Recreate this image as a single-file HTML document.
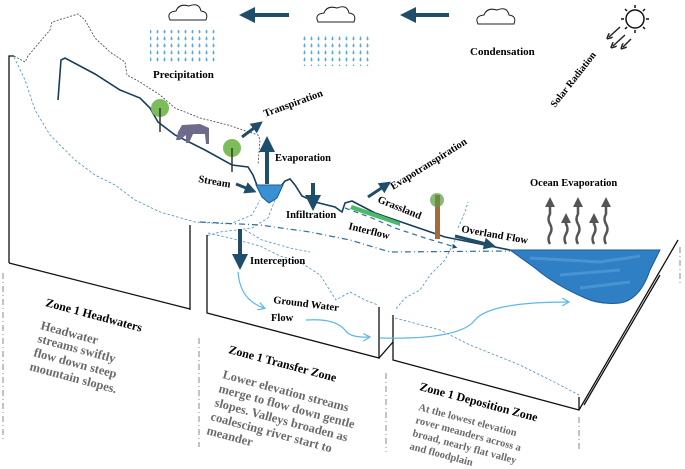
<!DOCTYPE html>
<html><head><meta charset="utf-8"><style>
html,body{margin:0;padding:0;background:#fff}
svg{display:block}
text{font-family:"Liberation Serif",serif;font-weight:bold}
</style></head><body>
<svg width="685" height="469" viewBox="0 0 685 469" xmlns="http://www.w3.org/2000/svg">
<defs>
<marker id="ah" markerWidth="4" markerHeight="4" refX="2" refY="2" orient="auto" markerUnits="strokeWidth"><path d="M0,0 L4,2 L0,4Z" fill="#1f4e6b"/></marker>
<marker id="lb" markerWidth="8" markerHeight="8" refX="6" refY="4" orient="auto" markerUnits="userSpaceOnUse"><path d="M0,0 L7,4 L0,8" fill="none" stroke="#5bb8e6" stroke-width="1.2"/></marker>
<marker id="gr" markerWidth="4" markerHeight="4" refX="2" refY="2" orient="auto" markerUnits="strokeWidth"><path d="M0,0 L4,2 L0,4Z" fill="#555"/></marker>
<marker id="bk" markerWidth="4" markerHeight="4" refX="2" refY="2" orient="auto" markerUnits="strokeWidth"><path d="M0,0 L4,2 L0,4" fill="none" stroke="#222" stroke-width="1"/></marker>
<pattern id="rain" width="7" height="7" patternUnits="userSpaceOnUse"><path d="M3.5,1 Q1.5,4.5 3.5,5.5 Q5.5,4.5 3.5,1Z" fill="#5aa8dc"/></pattern>
</defs>
<g fill="#fff" stroke="#222" stroke-width="1">
<path d="M170,20 q-4,-8 6,-9 q3,-8 13,-5 q10,-4 12,5 q8,1 5,9 z"/>
<path d="M318,22 q-4,-8 6,-9 q3,-8 13,-5 q10,-4 12,5 q8,1 5,9 z"/>
<path d="M478,24 q-4,-8 6,-9 q3,-8 13,-5 q10,-4 12,5 q8,1 5,9 z"/>
</g>
<line x1="289" y1="15" x2="247" y2="15" stroke="#1f4e6b" stroke-width="4" marker-end="url(#ah)"/>
<line x1="449" y1="15" x2="408" y2="15" stroke="#1f4e6b" stroke-width="4" marker-end="url(#ah)"/>
<rect x="150" y="30" width="66" height="34" fill="url(#rain)"/>
<rect x="303" y="36" width="66" height="30" fill="url(#rain)"/>
<text x="153" y="78" font-size="11">Precipitation</text>
<text x="470" y="55" font-size="11">Condensation</text>
<circle cx="635" cy="19" r="9" fill="none" stroke="#111" stroke-width="1.5"/>
<g stroke="#111" stroke-width="1.5">
<line x1="635" y1="5" x2="635" y2="8"/><line x1="635" y1="30" x2="635" y2="33"/><line x1="621" y1="19" x2="624" y2="19"/><line x1="646" y1="19" x2="649" y2="19"/>
<line x1="625" y1="9" x2="627" y2="11"/><line x1="643" y1="27" x2="645" y2="29"/><line x1="645" y1="9" x2="643" y2="11"/><line x1="625" y1="29" x2="627" y2="27"/>
</g>
<line x1="620" y1="27" x2="609" y2="37" stroke="#222" stroke-width="1.5" marker-end="url(#bk)"/>
<line x1="625" y1="35" x2="613" y2="46" stroke="#222" stroke-width="1.5" marker-end="url(#bk)"/>
<line x1="631" y1="39" x2="623" y2="47" stroke="#222" stroke-width="1.5" marker-end="url(#bk)"/>
<text x="0" y="0" font-size="10" transform="translate(555,108) rotate(-52)">Solar Radiation</text>
<path d="M14,56 L25,62 L28,56 L50,30 L52,22 L65,18 L78,14 L85,20 L95,38 L110,52 L125,62 L127,75 L140,82 L160,95 L175,108 L200,118 L228,125 L258,135 L260,140 L258,165" fill="none" stroke="#444" stroke-width="0.8" stroke-dasharray="2,1.5"/>
<g fill="none" stroke="#4a8fc0" stroke-width="0.8" stroke-dasharray="2.5,2">
<path d="M14,57 L25,80 L35,110 L50,135 L75,160 L95,175 L115,185 L135,200 L160,212 L195,222 L230,224 L252,215 L260,200"/>
<path d="M275,200 L268,218 L252,228 L220,232 L206,236"/>
<path d="M208,233 L230,238 L260,246 L280,256 L300,262 L320,275 L336,300 L350,292 L365,300 L378,305"/>
<path d="M455,240 L445,260 L430,275 L420,290 L405,298 L395,310"/>
<path d="M395,318 L440,330 L470,345 L520,365 L560,385 L579,395"/>
<path d="M245,230 L262,240 L290,248 L310,252"/>
</g>
<g stroke="#111" stroke-width="1.3" fill="none">
<path d="M14,56 L9,56 L9,263"/>
<path d="M9,263 L190,309"/>
<line x1="190" y1="225" x2="190" y2="310"/>
<path d="M207,235 L207,313 L379,358 L379,307"/>
<path d="M379,358 L393,342"/>
<path d="M393,315 L393,360 L579,410 L678,240"/>
<path d="M579,410 L579,397"/>
<path d="M584,405 L660,275"/>
</g>
<g stroke="#888" stroke-width="1" stroke-dasharray="6,3,1,3">
<line x1="3" y1="273" x2="3" y2="440"/>
<line x1="199" y1="338" x2="199" y2="447"/>
<line x1="386" y1="373" x2="386" y2="452"/>
<line x1="579" y1="417" x2="579" y2="450"/>
<line x1="680" y1="247" x2="680" y2="283"/>
</g>
<path d="M510,250 L660,250 L650,270 Q640,300 620,303 Q600,305 585,298 Q555,285 535,268 Z" fill="#2e7fc4" stroke="#1a5a94" stroke-width="1"/>
<path d="M530,258 L600,262 L640,256 M560,275 L620,270 M580,288 L630,282" stroke="#5aa2dc" stroke-width="3" fill="none" opacity="0.6"/>
<path d="M58,100 L61,60 L65,58 L95,74 L120,90 L140,98 L150,108 L158,122 L175,135 L205,150 L232,165 L248,167 L253,175 L258,188 L266,200 L274,195 L285,181 L290,179 L295,185 L302,196 L315,202 L335,207 L342,212 L345,203 L352,201 L375,213 L410,225 L445,237 L480,244 L510,250" fill="none" stroke="#163f5c" stroke-width="1.6"/>
<path d="M256,185 L283,185 L277,198 L269,203 L262,197 Z" fill="#3a90d0" stroke="#1a5a94" stroke-width="1"/>
<g>
<circle cx="160" cy="108" r="9" fill="#7cbd5a"/><line x1="160" y1="108" x2="160" y2="132" stroke="#333" stroke-width="1.5"/>
<circle cx="232" cy="148" r="9" fill="#7cbd5a"/><line x1="232" y1="148" x2="232" y2="172" stroke="#333" stroke-width="1.5"/>
<path d="M178,132 L182,125 L200,124 L209,128 L209,144 L206,144 L205,134 L193,134 L189,143 L186,143 L186,135 L180,140 L176,140Z" fill="#6d6a8a"/>
<rect x="435" y="195" width="5" height="44" fill="#a66a3a"/>
<circle cx="437" cy="200" r="7" fill="#5a9a40" opacity="0.7"/>
<path d="M352,205 L375,213 L400,222 L400,226 L350,209Z" fill="#4aba6a"/>
</g>
<path d="M200,222 L260,225 L310,232 L350,240 L390,252 L510,251" fill="none" stroke="#2a6f9e" stroke-width="1.2" stroke-dasharray="6,3,1,3"/>
<path d="M345,208 L372,218 L395,228 L425,238 L455,247" fill="none" stroke="#2a6f9e" stroke-width="1.2" stroke-dasharray="5,4" marker-end="url(#ah)"/>
<path d="M458,228 L465,212 L468,202" fill="none" stroke="#4a8fc0" stroke-width="0.8" stroke-dasharray="2.5,2"/>
<g stroke="#1f4e6b" fill="none" marker-end="url(#ah)">
<line x1="267" y1="184" x2="267" y2="144" stroke-width="4"/>
<line x1="242" y1="137" x2="258" y2="125" stroke-width="3"/>
<line x1="236" y1="184" x2="251" y2="190" stroke-width="3"/>
<line x1="313" y1="183" x2="313" y2="203" stroke-width="4"/>
<line x1="240" y1="229" x2="240" y2="262" stroke-width="4"/>
<line x1="368" y1="197" x2="386" y2="185" stroke-width="3"/>
<line x1="455" y1="236" x2="490" y2="245" stroke-width="3"/>
</g>
<g fill="none" stroke="#5bb8e6" stroke-width="1.2" marker-end="url(#lb)">
<path d="M238,272 Q240,300 264,308"/>
<path d="M306,320 Q335,318 345,330 Q350,338 369,337"/>
<path d="M380,338 Q460,340 475,320 Q490,302 568,302"/>
</g>
<g fill="none" stroke="#555" stroke-width="2.5" marker-end="url(#gr)">
<path d="M550,244 q-3,-5 0,-10 q3,-5 0,-10 q-3,-5 0,-10 l0,-12"/>
<path d="M566,244 q-3,-5 0,-10 q3,-5 0,-10 l0,-6"/>
<path d="M578,244 q-3,-5 0,-10 q3,-5 0,-10 q-3,-5 0,-10 l0,-12"/>
<path d="M594,244 q-3,-5 0,-10 q3,-5 0,-10 l0,-6"/>
<path d="M606,244 q-3,-5 0,-10 q3,-5 0,-10 q-3,-5 0,-10 l0,-12"/>
</g>
<g font-size="10.5">
<text x="0" y="0" transform="translate(265,117) rotate(-20)">Transpiration</text>
<text x="275" y="161">Evaporation</text>
<text x="0" y="0" transform="translate(198,182) rotate(10)">Stream</text>
<text x="286" y="218">Infiltration</text>
<text x="0" y="0" transform="translate(393,190) rotate(-32)">Evapotranspiration</text>
<text x="0" y="0" transform="translate(377,202) rotate(22)">Grassland</text>
<text x="0" y="0" transform="translate(348,229) rotate(14)">Interflow</text>
<text x="0" y="0" transform="translate(461,232) rotate(10)">Overland Flow</text>
<text x="530" y="186">Ocean Evaporation</text>
<text x="250" y="264">Interception</text>
<text x="0" y="0" transform="translate(273,303) rotate(7)">Ground Water</text>
<text x="271" y="321">Flow</text>
</g>
<g font-size="12">
<text x="0" y="0" transform="translate(45,306) rotate(15)">Zone 1 Headwaters</text>
<text x="0" y="0" transform="translate(228,353) rotate(15)">Zone 1 Transfer Zone</text>
<text x="0" y="0" transform="translate(419,390) rotate(15)">Zone 1 Deposition Zone</text>
</g>
<g font-size="12.5" fill="#6a6a6a">
<text transform="translate(40,329) rotate(15)">Headwater</text>
<text transform="translate(37,342) rotate(15)">streams swiftly</text>
<text transform="translate(33,356) rotate(15)">flow down steep</text>
<text transform="translate(29,370) rotate(15)">mountain slopes.</text>
<text transform="translate(222,378) rotate(15)">Lower elevation streams</text>
<text transform="translate(218,392) rotate(15)">merge to flow down gentle</text>
<text transform="translate(214,406) rotate(15)">slopes. Valleys broaden as</text>
<text transform="translate(210,420) rotate(15)">coalescing river start to</text>
<text transform="translate(206,434) rotate(15)">meander</text>
</g>
<g font-size="10.5" fill="#6a6a6a">
<text transform="translate(418,410) rotate(15)">At the lowest elevation</text>
<text transform="translate(415,423) rotate(15)">rover meanders across a</text>
<text transform="translate(412,436) rotate(15)">broad, nearly flat valley</text>
<text transform="translate(409,449) rotate(15)">and floodplain</text>
</g>
</svg>
</body></html>
